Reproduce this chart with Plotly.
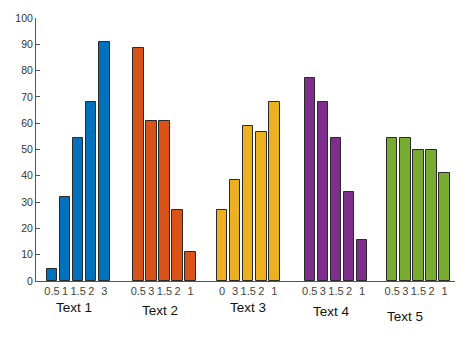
import plotly.graph_objects as go

groups = ["Text 1", "Text 2", "Text 3", "Text 4", "Text 5"]
group_start = [0, 6.6, 13.0, 19.7, 26.0]
values = [
    [4.5, 32, 54.5, 68, 91],
    [88.5, 61, 61, 27, 11],
    [27, 38.5, 59, 56.5, 68],
    [77, 68, 54.5, 34, 15.5],
    [54.5, 54.5, 50, 50, 41],
]
tick_labels = [
    ["0.5", "1", "1.5", "2", "3"],
    ["0.5", "3", "1.5", "2", "1"],
    ["0", "3", "1.5", "2", "1"],
    ["0.5", "3", "1.5", "2", "1"],
    ["0.5", "3", "1.5", "2", "1"],
]
label_x = [1.66, 8.22, 15.0, 21.37, 27.0]
label_shift = [-26.5, -29, -26, -30.5, -35.5]
colors = ["#0072BD", "#D95319", "#EDB120", "#7E2F8E", "#77AC30"]

fig = go.Figure()
tickvals, ticktext = [], []
for g, name in enumerate(groups):
    xs = [group_start[g] + j for j in range(len(values[g]))]
    tickvals += xs
    ticktext += tick_labels[g]
    fig.add_trace(go.Bar(
        x=xs, y=values[g], width=0.8, name=name,
        marker=dict(color=colors[g], line=dict(color="#2a2a2a", width=1)),
        showlegend=False,
    ))

for g, name in enumerate(groups):
    fig.add_annotation(x=label_x[g], y=0, xref="x", yref="y", text=name,
                       showarrow=False, yshift=label_shift[g], yanchor="middle",
                       font=dict(family="Arial, Liberation Sans", size=13.5, color="#111111"))

fig.update_layout(
    width=474, height=337,
    margin=dict(l=36, r=19, t=18, b=56),
    plot_bgcolor="white", paper_bgcolor="white",
    font=dict(family="Arial, Liberation Sans", size=11, color="#333333"),
    bargap=0,
)
fig.update_xaxes(range=[-1.22, 30.8], tickvals=tickvals, ticktext=ticktext,
                 showline=True, linecolor="#555555", linewidth=1, ticks="",
                 showgrid=False, zeroline=False, tickfont=dict(size=11, color="#444444"),
                 tickangle=0)
fig.update_yaxes(range=[0, 100], dtick=10, showline=True, linecolor="#555555", linewidth=1,
                 ticks="inside", ticklen=4, tickcolor="#555555",
                 showgrid=False, zeroline=False, tickfont=dict(size=10.5, color="#333333"))

fig.write_html("out.html")
